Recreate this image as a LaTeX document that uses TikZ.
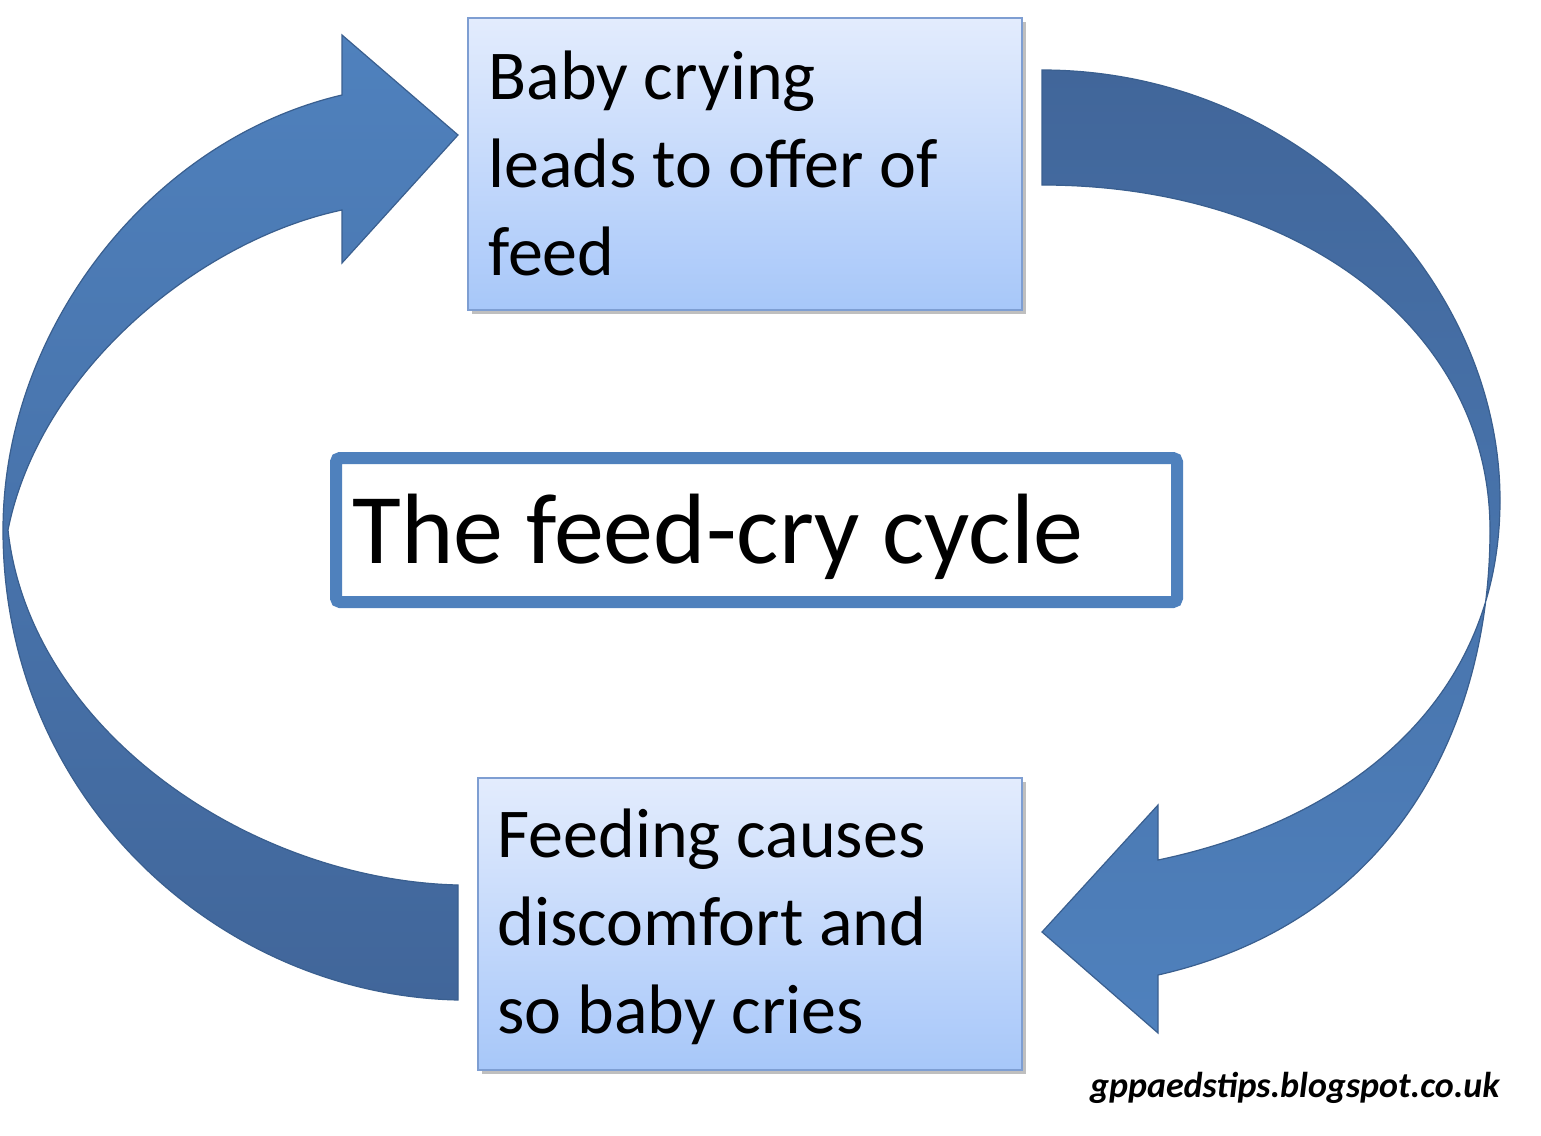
\documentclass[tikz,border=0pt]{standalone}
\usepackage{fontspec}
\setmainfont{Carlito}
\begin{document}
\begin{tikzpicture}[x=0.5pt,y=-0.5pt,
  arr/.style={draw=black!20!blue!30!gray!80, line width=0.6pt},
  gbox/.style={draw=blue!40!gray!80, line width=0.8pt, top color=blue!10, bottom color=blue!35!cyan!20!white!80!blue, },
  btxt/.style={anchor=north west, align=left, inner sep=0pt, font=\fontsize{35pt}{44pt}\selectfont}]
\definecolor{dk}{HTML}{41669A}\definecolor{lt}{HTML}{4F81BD}\definecolor{bdr}{HTML}{3A5F8F}
\definecolor{bt}{HTML}{E3ECFD}\definecolor{bb}{HTML}{A7C7F9}\definecolor{bbd}{HTML}{7E9ED2}
\useasboundingbox (0,0) rectangle (1541,1135);
% left arrow
\path[draw=bdr, line width=0.6pt, top color=lt, bottom color=dk]
 (458,885) .. controls (250,880) and (30,730) .. (8,530)
 .. controls (40,370) and (200,240) .. (342,210) -- (342,263) -- (458,135) -- (342,35) -- (342,95)
 .. controls (150,140) and (3,330) .. (3,530)
 .. controls (3,800) and (220,995) .. (458,1000) -- cycle;
% right arrow
\path[draw=bdr, line width=0.6pt, top color=dk, bottom color=lt]
 (1042,70) .. controls (1300,70) and (1500,280) .. (1500,500)
 .. controls (1500,700) and (1350,820) .. (1158,860) -- (1158,805) -- (1042,932) -- (1158,1033) -- (1158,975)
 .. controls (1400,920) and (1490,720) .. (1490,530)
 .. controls (1490,330) and (1300,185) .. (1042,185) -- cycle;
% boxes
\fill[black!25] (472,22) rectangle (1026,314);
\path[draw=bbd, line width=1pt, top color=bt, bottom color=bb] (468,18) rectangle (1022,310);
\node[btxt] (t) at (488,50) {Baby crying\\leads to offer of\\feed};
\fill[black!25] (482,782) rectangle (1026,1074);
\path[draw=bbd, line width=1pt, top color=bt, bottom color=bb] (478,778) rectangle (1022,1070);
\node[btxt] (b) at (497,808) {Feeding causes\\discomfort and\\so baby cries};
\draw[lt, line width=6pt, fill=white, rounded corners=2pt] (336,458) rectangle (1177,602);
\node[anchor=base west, inner sep=0pt, font=\fontsize{50pt}{60pt}\selectfont] (c) at (352,563) {The feed-cry cycle};
\node[anchor=base east, inner sep=0pt, font=\fontsize{18pt}{22pt}\selectfont\bfseries\itshape] (u) at (1500,1097) {gppaedstips.blogspot.co.uk};
\end{tikzpicture}
\end{document}
